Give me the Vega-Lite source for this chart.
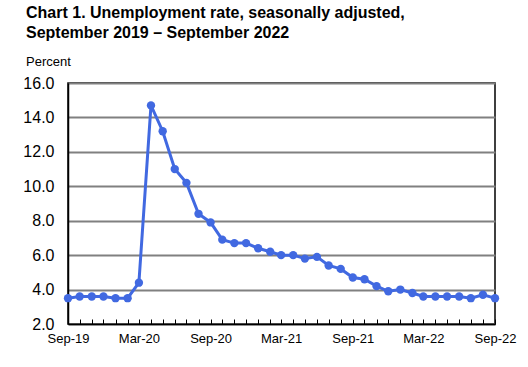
{
  "$schema": "https://vega.github.io/schema/vega-lite/v6.json",
  "width": 427,
  "height": 241,
  "autosize": {"type": "none"},
  "padding": {"left": 68, "top": 83, "right": 33, "bottom": 43},
  "background": "white",
  "config": {
    "font": "Liberation Sans",
    "view": {"stroke": "black", "strokeWidth": 1.5}
  },
  "title": {
    "text": ["Chart 1. Unemployment rate, seasonally adjusted,", "September 2019 – September 2022"],
    "subtitle": "Percent",
    "anchor": "start",
    "frame": "group",
    "dx": -42,
    "offset": 6,
    "font": "Liberation Sans",
    "fontSize": 16,
    "fontWeight": "bold",
    "lineHeight": 20,
    "color": "black",
    "subtitleFont": "Liberation Sans",
    "subtitleFontSize": 13,
    "subtitleColor": "black",
    "subtitlePadding": 15
  },
  "data": {
    "values": [
      {"month": "2019-09-01", "rate": 3.5},
      {"month": "2019-10-01", "rate": 3.6},
      {"month": "2019-11-01", "rate": 3.6},
      {"month": "2019-12-01", "rate": 3.6},
      {"month": "2020-01-01", "rate": 3.5},
      {"month": "2020-02-01", "rate": 3.5},
      {"month": "2020-03-01", "rate": 4.4},
      {"month": "2020-04-01", "rate": 14.7},
      {"month": "2020-05-01", "rate": 13.2},
      {"month": "2020-06-01", "rate": 11.0},
      {"month": "2020-07-01", "rate": 10.2},
      {"month": "2020-08-01", "rate": 8.4},
      {"month": "2020-09-01", "rate": 7.9},
      {"month": "2020-10-01", "rate": 6.9},
      {"month": "2020-11-01", "rate": 6.7},
      {"month": "2020-12-01", "rate": 6.7},
      {"month": "2021-01-01", "rate": 6.4},
      {"month": "2021-02-01", "rate": 6.2},
      {"month": "2021-03-01", "rate": 6.0},
      {"month": "2021-04-01", "rate": 6.0},
      {"month": "2021-05-01", "rate": 5.8},
      {"month": "2021-06-01", "rate": 5.9},
      {"month": "2021-07-01", "rate": 5.4},
      {"month": "2021-08-01", "rate": 5.2},
      {"month": "2021-09-01", "rate": 4.7},
      {"month": "2021-10-01", "rate": 4.6},
      {"month": "2021-11-01", "rate": 4.2},
      {"month": "2021-12-01", "rate": 3.9},
      {"month": "2022-01-01", "rate": 4.0},
      {"month": "2022-02-01", "rate": 3.8},
      {"month": "2022-03-01", "rate": 3.6},
      {"month": "2022-04-01", "rate": 3.6},
      {"month": "2022-05-01", "rate": 3.6},
      {"month": "2022-06-01", "rate": 3.6},
      {"month": "2022-07-01", "rate": 3.5},
      {"month": "2022-08-01", "rate": 3.7},
      {"month": "2022-09-01", "rate": 3.5}
    ]
  },
  "mark": {
    "type": "line",
    "color": "#4169E1",
    "strokeWidth": 3,
    "point": {"filled": true, "size": 70, "color": "#4169E1", "opacity": 1}
  },
  "encoding": {
    "x": {
      "field": "month",
      "type": "temporal",
      "scale": {"domain": [{"year": 2019, "month": 9, "date": 1}, {"year": 2022, "month": 9, "date": 1}], "nice": false},
      "axis": {
        "title": null,
        "tickCount": {"interval": "month", "step": 1},
        "tickSize": -5,
        "tickColor": "black",
        "tickWidth": 1,
        "domainColor": "black",
        "domainWidth": 1.5,
        "grid": false,
        "labelExpr": "month(datum.value) % 6 == 2 ? timeFormat(datum.value, '%b-%y') : ''",
        "labelFontSize": 13,
        "labelColor": "black",
        "labelPadding": 13,
        "labelOverlap": false,
        "labelBound": false,
        "labelFlush": false
      }
    },
    "y": {
      "field": "rate",
      "type": "quantitative",
      "scale": {"domain": [2, 16], "nice": false, "zero": false},
      "axis": {
        "title": null,
        "values": [2, 4, 6, 8, 10, 12, 14, 16],
        "format": ".1f",
        "ticks": false,
        "domainColor": "black",
        "domainWidth": 1.5,
        "grid": true,
        "gridColor": "#808080",
        "gridWidth": 2,
        "labelFontSize": 16,
        "labelColor": "black",
        "labelPadding": 14
      }
    }
  }
}
